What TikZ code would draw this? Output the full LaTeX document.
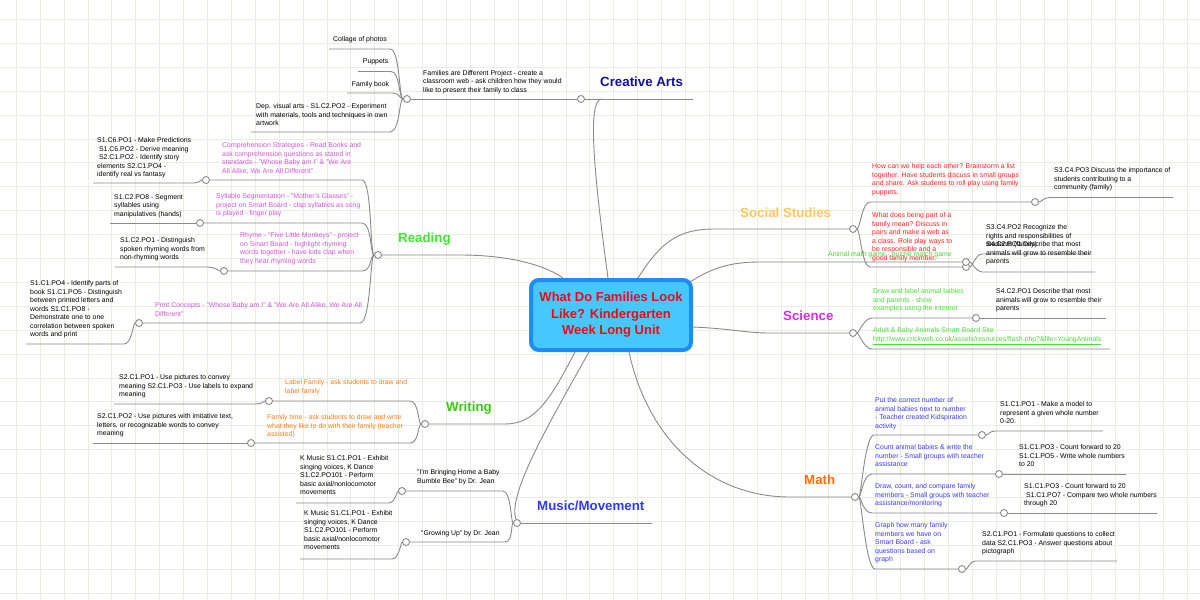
\documentclass[tikz,border=0pt]{standalone}
\usepackage{fontspec}
\setmainfont{Liberation Sans}
\pgfdeclarelayer{gridl}
\pgfdeclarelayer{lines}
\pgfsetlayers{gridl,lines,main}
\definecolor{gridc}{RGB}{233,238,225}
\definecolor{linec}{RGB}{138,138,138}
\definecolor{caC}{RGB}{18,18,150}
\definecolor{rdC}{RGB}{70,225,60}
\definecolor{rdT}{RGB}{208,88,212}
\definecolor{wrC}{RGB}{60,200,20}
\definecolor{wrT}{RGB}{255,125,25}
\definecolor{muC}{RGB}{50,60,230}
\definecolor{ssC}{RGB}{255,200,95}
\definecolor{ssT}{RGB}{255,35,35}
\definecolor{amT}{RGB}{80,205,50}
\definecolor{scC}{RGB}{210,50,215}
\definecolor{scT}{RGB}{75,220,55}
\definecolor{maC}{RGB}{255,110,15}
\definecolor{maT}{RGB}{60,60,240}
\definecolor{rootF}{RGB}{70,200,255}
\definecolor{rootB}{RGB}{30,140,245}
\definecolor{rootT}{RGB}{235,10,25}
\begin{document}
\begin{tikzpicture}[x=1pt,y=-1pt,
  conn/.style={draw=linec,line width=0.9pt},
  jn/.style={circle,draw=linec,fill=white,line width=0.9pt,minimum size=7pt,inner sep=0pt},
  txt/.style={anchor=north west,inner sep=0pt,align=left,font=\fontsize{6.9}{8.5}\selectfont},
  head/.style={anchor=base west,inner sep=0pt,font=\bfseries\fontsize{13.3}{15}\selectfont},
]
\useasboundingbox (0,0) rectangle (1200,600);
\begin{pgfonlayer}{gridl}
\fill[white] (0,0) rectangle (1200,600);
\foreach \i in {0,...,50} \draw[gridc,line width=1pt] ({16.3+23.9*\i},0) -- ++(0,600);
\foreach \i in {0,...,25} \draw[gridc,line width=1pt] (0,{19.5+23.9*\i}) -- ++(1200,0);
\end{pgfonlayer}

% root
\node[draw=rootB,fill=rootF,line width=4pt,rounded corners=8pt,minimum width=160pt,minimum height=70pt,inner sep=0pt,align=center,text=rootT,font=\bfseries\fontsize{13}{16.5}\selectfont] (root) at (611,315) {What Do Families Look\\Like? Kindergarten\\Week Long Unit};

% ---------- Creative Arts
\node[jn] (jCA) at (581,99) {};
\node[head,text=caC] (hCA) at (600,86) {Creative Arts};
\coordinate (caE) at (693,99);
\coordinate (caIn) at (602,99);
\node[jn] (jFam) at (407,99) {};
\node[txt] (tFam) at (423,70) {Families are Different Project - create a\\classroom web - ask children how they would\\like to present their family to class};
\node[txt] (tCol) at (333,36.4) {Collage of photos};
\coordinate (colL) at (329,49); \coordinate (colR) at (390,49);
\node[txt] (tPup) at (362.7,59) {Puppets};
\coordinate (pupL) at (358,71.5); \coordinate (pupR) at (391,71.5);
\node[txt] (tFb) at (351.7,81.4) {Family book};
\coordinate (fbL) at (347,93); \coordinate (fbR) at (392,93);
\node[txt] (tDep) at (256,103.4) {Dep. visual arts - S1.C2.PO2 - Experiment\\with materials, tools and techniques in own\\artwork};
\coordinate (depL) at (251,132); \coordinate (depR) at (390,132);

% ---------- Reading
\node[jn] (jR) at (378,255) {};
\node[head,text=rdC] (hR) at (398,242) {Reading};
\coordinate (rIn) at (460,255);
\node[jn] (jComp) at (206,180) {};
\node[txt,text=rdT] (tComp) at (222,142.4) {Comprehension Strategies - Read Books and\\ask comprehension questions as stated in\\standards  - "Whose Baby am I" \& "We Are\\All Alike, We Are All Different"};
\coordinate (compR) at (362,180);
\node[txt] (tCC) at (97,137.4) {S1.C6.PO1 - Make Predictions\\\hspace*{0.28em}S1.C6.PO2 - Derive meaning\\\hspace*{0.28em}S2.C1.PO2 - Identify story\\elements  S2.C1.PO4 -\\identify real vs fantasy};
\coordinate (ccL) at (93,183); \coordinate (ccR) at (193,183);
\node[jn] (jSyl) at (200,223) {};
\node[txt,text=rdT] (tSyl) at (216,193.4) {Syllable Segmentation - "Mother's Glasses" -\\project on Smart Board - clap syllables as song\\is played - finger play};
\coordinate (sylR) at (362,223);
\node[txt] (tSC) at (114,194.4) {S1.C2.PO8 - Segment\\syllables using\\manipulatives (hands)};
\coordinate (scL) at (110,223);
\node[jn] (jRhy) at (224,271) {};
\node[txt,text=rdT] (tRhy) at (240,232.4) {Rhyme - "Five Little Monkeys" - project\\on Smart Board - highlight rhyming\\words together - have kids clap when\\they hear rhyming words};
\coordinate (rhyR) at (362,271);
\node[txt] (tRC) at (120,237.4) {S1.C2.PO1 - Distinguish\\spoken rhyming words from\\non-rhyming words};
\coordinate (rcL) at (115,267); \coordinate (rcR) at (208,267);
\node[jn] (jPrint) at (139,323) {};
\node[txt,text=rdT] (tPr) at (155,302.4) {Print Concepts -  "Whose Baby am I" \& "We Are All Alike, We Are All\\Different"};
\coordinate (prR) at (360,323);
\node[txt] (tPC) at (30,280.4) {S1.C1.PO4 - Identify parts of\\book  S1.C1.PO5 - Distinguish\\between printed letters and\\words  S1.C1.PO8 -\\Demonstrate one to one\\correlation between spoken\\words and print};
\coordinate (pcL) at (26,344); \coordinate (pcR) at (124,344);

% ---------- Writing
\node[jn] (jW) at (425,424) {};
\node[head,text=wrC] (hW) at (446,411) {Writing};
\coordinate (wIn) at (505,424);
\node[jn] (jLab) at (269,401) {};
\node[txt,text=wrT] (tLab) at (285,379.4) {Label Family - ask students to draw and\\label family};
\coordinate (labR) at (410,401);
\node[txt] (tLC) at (119,374.4) {S2.C1.PO1 - Use pictures to convey\\meaning  S2.C1.PO3 - Use labels to expand\\meaning};
\coordinate (lcL) at (114,404); \coordinate (lcR) at (256,404);
\node[jn] (jFT) at (251,443) {};
\node[txt,text=wrT] (tFT) at (267,414.4) {Family time - ask students to draw and write\\what they like to do with their family (teacher\\assisted)};
\coordinate (ftR) at (410,443);
\node[txt] (tFC) at (97,413.4) {S2.C1.PO2 - Use pictures with imitative text,\\letters, or recognizable words to convey\\meaning};
\coordinate (fcL) at (93,443);

% ---------- Music
\node[jn] (jM) at (517,523) {};
\node[head,text=muC] (hM) at (537,510) {Music/Movement};
\coordinate (mE) at (652,523);
\node[jn] (jBB) at (402,491) {};
\node[txt] (tBB) at (417,469.4) {"I'm Bringing Home a Baby\\Bumble Bee" by Dr. Jean};
\coordinate (bbR) at (503,491);
\node[txt] (tBC) at (300,455.4) {K Music S1.C1.PO1 - Exhibit\\singing voices, K Dance\\S1.C2.PO101 - Perform\\basic axial/nonlocomotor\\movements};
\coordinate (bcL) at (296,503); \coordinate (bcR) at (389,503);
\node[jn] (jGU) at (406,542) {};
\node[txt] (tGU) at (421,530.4) {"Growing Up" by Dr. Jean};
\coordinate (guR) at (505,542);
\node[txt] (tGC) at (304,510.4) {K Music S1.C1.PO1 - Exhibit\\singing voices, K Dance\\S1.C2.PO101 - Perform\\basic axial/nonlocomotor\\movements};
\coordinate (gcL) at (300,559); \coordinate (gcR) at (392,559);

% ---------- Social Studies
\node[jn] (jSS) at (853,229) {};
\node[head,text=ssC] (hSS) at (740,217) {Social Studies};
\coordinate (ssIn) at (715,229);
\node[jn] (jHelp) at (1035,202) {};
\node[txt,text=ssT] (tHelp) at (872,163.4) {How can we help each other? Brainstorm a list\\together.  Have students discuss in small groups\\and share. Ask students to roll play using family\\puppets.};
\coordinate (helpL) at (870,202);
\node[txt] (tHC) at (1054,167.4) {S3.C4.PO3 Discuss the importance of\\students contributing to a\\community (family)};
\coordinate (hcL) at (1050,197.5); \coordinate (hcR) at (1173,197.5);
\node[jn] (jWhat) at (966,267) {};
\node[txt,text=ssT] (tWhat) at (872,212.4) {What does being part of a\\family mean? Discuss in\\pairs and make a web  as\\a class.  Role play ways to\\be responsible and a\\good family member.};
\coordinate (whatL) at (870,267);
\node[txt] (tWC) at (986,224.4) {S3.C4.PO2 Recognize the\\rights and responsibilities of\\students (family)};
\coordinate (wcL) at (982,254); \coordinate (wcR) at (1090,254);
\node[jn] (jAM) at (966,262) {};
\node[anchor=base west,inner sep=0pt,font=\fontsize{6.9}{8.5}\selectfont,text=amT] (tAM) at (828,256.5) {Animal math game - puzzle match game};
\coordinate (amIn) at (760,262);
\node[txt] (tAC) at (986,241.4) {S4.C2.PO1 Describe that most\\animals will grow to resemble their\\parents};
\coordinate (acL) at (982,272); \coordinate (acR) at (1095,272);

% ---------- Science
\node[jn] (jSci) at (853,333) {};
\node[head,text=scC] (hSci) at (783,320) {Science};
\coordinate (sciIn) at (770,333);
\node[jn] (jDraw) at (976,318) {};
\node[txt,text=scT] (tDraw) at (873,288.4) {Draw and label animal babies\\and parents  - show\\examples using the internet};
\coordinate (drawL) at (872,318);
\node[txt] (tDC) at (996,288.4) {S4.C2.PO1 Describe that most\\animals will grow to resemble their\\parents};
\coordinate (dcR) at (1106,318);
\node[txt,text=scT] (tAd) at (873,327.4) {Adult \& Baby Animals Smart Board Site\\\underline{http://www.crickweb.co.uk/assets/resources/flash.php?\&file=YoungAnimals}};
\coordinate (adL) at (872,349); \coordinate (adR) at (1110,349);

% ---------- Math
\node[jn] (jMa) at (855,497) {};
\node[head,text=maC] (hMa) at (804,484) {Math};
\coordinate (maIn) at (790,497);
\node[jn] (jPut) at (982,435) {};
\node[txt,text=maT] (tPut) at (875,397.4) {Put the correct number of\\animal babies next to number\\- Teacher created Kidspiration\\activity};
\coordinate (putL) at (874,435);
\node[txt] (tPutC) at (1000,401.4) {S1.C1.PO1 - Make a model to\\represent a given whole number\\0-20.};
\coordinate (pucL) at (995,431); \coordinate (pucR) at (1103,431);
\node[jn] (jCnt) at (999,474) {};
\node[txt,text=maT] (tCnt) at (875,444.4) {Count animal babies \& write the\\number - Small groups with teacher\\assistance};
\coordinate (cntL) at (872,474);
\node[txt] (tCntC) at (1019,444.4) {S1.C1.PO3 - Count forward to 20\\S1.C1.PO5 - Write whole numbers\\to 20};
\coordinate (cncR) at (1126,474);
\node[jn] (jDC) at (1004,513) {};
\node[txt,text=maT] (tDCm) at (875,483.4) {Draw, count, and compare family\\members - Small groups with teacher\\assistance/monitoring};
\coordinate (dcmL) at (872,513);
\node[txt] (tDCC) at (1024,483.4) {S1.C1.PO3 - Count forward to 20\\\hspace*{0.28em}S1.C1.PO7 - Compare two whole numbers\\through 20};
\coordinate (dccR) at (1157,513);
\node[jn] (jGr) at (962,569) {};
\node[txt,text=maT] (tGr) at (875,522.4) {Graph how many family\\members we have on\\Smart Board - ask\\questions based on\\graph};
\coordinate (grL) at (875,569);
\node[txt] (tGrC) at (982,531.4) {S2.C1.PO1 - Formulate questions to collect\\data  S2.C1.PO3 - Answer questions about\\pictograph};
\coordinate (grcL) at (975,561); \coordinate (grcR) at (1117,561);

% ---------- connectors
\begin{pgfonlayer}{lines}
% root branches
\draw[conn] ([xshift=-3pt]root.north) .. controls (592,160) and (588,99) .. (caIn);
\draw[conn] ([xshift=-48pt]root.north) .. controls (540,262) and (500,255) .. (rIn) -- (jR);
\draw[conn] ([xshift=27pt]root.north) .. controls (662,240) and (680,229) .. (ssIn) -- (jSS);
\draw[conn] ([xshift=-3pt,yshift=-4pt]root.north east) .. controls (712,268) and (730,262) .. (amIn) -- (jAM);
\draw[conn] ([yshift=-12pt]root.east) .. controls (735,329) and (745,333) .. (sciIn) -- (jSci);
\draw[conn] ([xshift=18pt]root.south) .. controls (648,440) and (710,497) .. (maIn) -- (jMa);
\draw[conn] ([xshift=-36pt]root.south) .. controls (550,400) and (535,424) .. (wIn) -- (jW);
\draw[conn] ([xshift=-22pt]root.south) .. controls (545,430) and (508,495) .. (jM);
% creative arts
\draw[conn] (jCA) -- (caE);
\draw[conn] (jFam) -- (jCA);
\draw[conn] (colL) -- (colR) .. controls +(10,0) and +(-8,0) .. (jFam);
\draw[conn] (pupL) -- (pupR) .. controls +(9,0) and +(-8,0) .. (jFam);
\draw[conn] (fbL) -- (fbR) .. controls +(8,0) and +(-7,0) .. (jFam);
\draw[conn] (depL) -- (depR) .. controls +(10,0) and +(-8,0) .. (jFam);
% reading
\draw[conn] (jComp) -- (compR) .. controls +(10,0) and +(-8,0) .. (jR);
\draw[conn] (ccL) -- (ccR) .. controls +(6,0) and +(-5,0) .. (jComp);
\draw[conn] (jSyl) -- (sylR) .. controls +(10,0) and +(-8,0) .. (jR);
\draw[conn] (scL) -- (jSyl);
\draw[conn] (jRhy) -- (rhyR) .. controls +(10,0) and +(-8,0) .. (jR);
\draw[conn] (rcL) -- (rcR) .. controls +(7,0) and +(-5,0) .. (jRhy);
\draw[conn] (jPrint) -- (prR) .. controls +(11,0) and +(-8,0) .. (jR);
\draw[conn] (pcL) -- (pcR) .. controls +(8,0) and +(-6,0) .. (jPrint);
% writing
\draw[conn] (jLab) -- (labR) .. controls +(9,0) and +(-7,0) .. (jW);
\draw[conn] (lcL) -- (lcR) .. controls +(6,0) and +(-5,0) .. (jLab);
\draw[conn] (jFT) -- (ftR) .. controls +(9,0) and +(-7,0) .. (jW);
\draw[conn] (fcL) -- (jFT);
% music
\draw[conn] (jM) -- (mE);
\draw[conn] (jBB) -- (bbR) .. controls +(8,0) and +(-6,0) .. (jM);
\draw[conn] (bcL) -- (bcR) .. controls +(6,0) and +(-5,0) .. (jBB);
\draw[conn] (jGU) -- (guR) .. controls +(8,0) and +(-6,0) .. (jM);
\draw[conn] (gcL) -- (gcR) .. controls +(7,0) and +(-5,0) .. (jGU);
% social studies
\draw[conn] (jSS) .. controls +(7,0) and +(-8,0) .. (helpL) -- (jHelp);
\draw[conn] (jHelp) .. controls +(6,0) and +(-6,0) .. (hcL) -- (hcR);
\draw[conn] (jSS) .. controls +(7,0) and +(-8,0) .. (whatL) -- (jWhat);
\draw[conn] (jWhat) .. controls +(6,0) and +(-6,0) .. (wcL) -- (wcR);
\draw[conn] (jAM) .. controls +(6,0) and +(-6,0) .. (acL) -- (acR);
% science
\draw[conn] (jSci) .. controls +(6,0) and +(-8,0) .. (drawL) -- (jDraw);
\draw[conn] (jDraw) -- (dcR);
\draw[conn] (jSci) .. controls +(6,0) and +(-8,0) .. (adL) -- (adR);
% math
\draw[conn] (jMa) .. controls +(6,0) and +(-9,0) .. (putL) -- (jPut);
\draw[conn] (jPut) .. controls +(6,0) and +(-5,0) .. (pucL) -- (pucR);
\draw[conn] (jMa) .. controls +(6,0) and +(-9,0) .. (cntL) -- (jCnt);
\draw[conn] (jCnt) -- (cncR);
\draw[conn] (jMa) .. controls +(6,0) and +(-9,0) .. (dcmL) -- (jDC);
\draw[conn] (jDC) -- (dccR);
\draw[conn] (jMa) .. controls +(6,0) and +(-9,0) .. (grL) -- (jGr);
\draw[conn] (jGr) .. controls +(6,0) and +(-5,0) .. (grcL) -- (grcR);
\end{pgfonlayer}
\end{tikzpicture}
\end{document}
